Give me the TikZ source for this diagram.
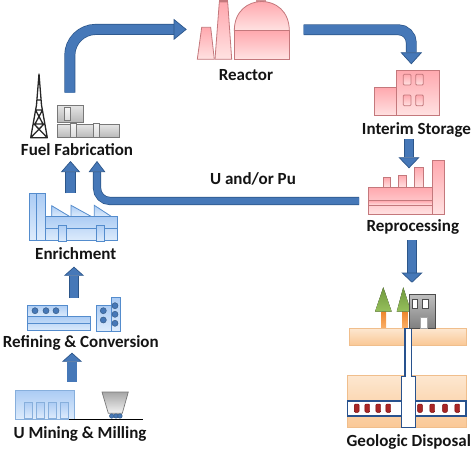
\documentclass[tikz,border=0pt]{standalone}
\usepackage{fontspec}
\setmainfont{Carlito}
\usetikzlibrary{arrows.meta}
\definecolor{flowfill}{RGB}{70,120,184}
\definecolor{flowedge}{RGB}{44,86,138}
\definecolor{pinkedge}{RGB}{196,120,124}
\definecolor{pinktop}{RGB}{255,168,174}
\definecolor{pinkbot}{RGB}{255,226,226}
\definecolor{blueedge}{RGB}{84,140,205}
\definecolor{bluetop}{RGB}{172,204,244}
\definecolor{bluebot}{RGB}{222,236,252}
\definecolor{greyedge}{RGB}{120,120,120}
\definecolor{sandtop}{RGB}{253,231,208}
\definecolor{sandbot}{RGB}{250,200,150}
\definecolor{sandedge}{RGB}{240,190,140}
\definecolor{tunnel}{RGB}{40,82,142}
\definecolor{leaftop}{RGB}{112,152,62}
\definecolor{leafbot}{RGB}{150,192,92}
\definecolor{trunktop}{RGB}{238,132,42}
\definecolor{trunkbot}{RGB}{250,178,108}
\tikzset{
  stagelabel/.style={font=\fontsize{17}{19}\selectfont\bfseries, inner sep=0pt, text=black!92},
  pinkpart/.style={draw=pinkedge, line width=.8pt, top color=pinktop, bottom color=pinkbot},
  bluepart/.style={draw=blueedge, line width=.8pt, top color=bluetop, bottom color=bluebot},
  greypart/.style={draw=greyedge, line width=.7pt, top color=black!10, bottom color=black!28},
  sandpart/.style={draw=sandedge, line width=.6pt, top color=sandtop, bottom color=sandbot},
  tunnelpart/.style={draw=tunnel, line width=1.1pt, fill=white},
  leafpart/.style={top color=leaftop, bottom color=leafbot},
  trunkpart/.style={top color=trunktop, bottom color=trunkbot},
  pellet/.style={draw=blueedge!70!black, line width=.6pt, fill=flowfill},
  flowarrow/.style n args={3}{draw=flowedge, line width=.7pt, double=flowfill, double distance=#1,
    -{Triangle[width=#2, length=#3, fill=flowfill, line width=.7pt]}}
}
\begin{document}
\begin{tikzpicture}[x=1pt,y=-1pt]
\useasboundingbox (0,0) rectangle (474,450);

% reactor: two cooling towers and the containment dome
\fill[pinkedge] (219.3,0) rectangle (227.7,2);
\fill[pinkedge!80] (256,0) rectangle (266,2);
\draw[pinkpart] (197.3,59.3) -- (201.7,27.3) -- (210.7,27.3) -- (214.3,59.3) -- cycle;
\draw[pinkpart] (215,59.3) -- (219.3,2) -- (227.7,2) -- (231.7,59.3) -- cycle;
\draw[pinkpart] (234.3,30.7) .. controls (234.3,11) and (248,1.5) .. (261.8,1.5)
  .. controls (275.6,1.5) and (289.3,11) .. (289.3,30.7) -- cycle;
\draw[pinkpart] (234.3,30.7) rectangle (289.3,59);

% interim storage building
\draw[pinkpart] (374,87.3) rectangle (396.7,115.7);
\draw[pinkpart] (396.7,70) rectangle (439,115.7);
\foreach \wx in {403.3,415.7} \foreach \wy in {74.3,95}
  \draw[pinkpart, rounded corners=1pt] (\wx,\wy) rectangle ++(7.6,10.7);

% reprocessing plant
\draw[pinkpart] (383,177.7) rectangle (390.7,187.3);
\draw[pinkpart] (398.3,175) rectangle (406,187.3);
\draw[pinkpart] (414,167.3) rectangle (423.3,187.3);
\draw[pinkpart] (368.3,187.3) rectangle (432.3,214.3);
\draw[pinkpart] (368.3,200.7) rectangle (432.3,205.3);
\draw[pinkpart] (432.3,160) rectangle (444.3,214.3);

% fuel fabrication: derrick and machining blocks
\draw[black!85, line width=1.3pt, line join=round]
  (39,74) -- (36.5,105) -- (30.7,137.7) -- (47.3,137.7) -- (41.5,105) -- cycle
  (37,100) -- (41,100) (35.5,110) -- (42.5,110)
  (35.5,110) -- (43,124) (42.5,110) -- (35,124) (34,124) -- (44,124)
  (34,124) -- (47.3,137.7) (44,124) -- (30.7,137.7);
\draw[greypart] (57.3,105) rectangle (83.3,122.3);
\draw[greypart, top color=black!3, bottom color=black!15] (64.3,107.3) rectangle (70,120.7);
\draw[greypart] (57.3,124.3) rectangle (119.3,137.7);
\draw[greypart, top color=black!3, bottom color=black!15] (70.3,123.3) rectangle (76.3,137.7);
\draw[greypart, top color=black!3, bottom color=black!15] (93.3,123.3) rectangle (99.3,137.7);

% enrichment plant
\draw[bluepart] (29,193.3) rectangle (36.7,240.7);
\draw[bluepart] (36.7,193.3) rectangle (45,240.7);
\draw[bluepart] (51.7,205.7) -- (51.7,216.7) -- (70,216.7) -- cycle;
\draw[bluepart] (71,205.3) -- (71,216.7) -- (91.7,216.7) -- cycle;
\draw[bluepart] (94.3,205.3) -- (94.3,216.7) -- (111.7,216.7) -- cycle;
\draw[bluepart] (45,216.7) rectangle (117.7,240.7);
\draw[blueedge, line width=.6pt] (45,228.3) -- (117.7,228.3);
\draw[bluepart] (58.3,225) rectangle (66,241.7);
\draw[bluepart] (96.7,225) rectangle (104.3,241.7);

% refining and conversion plant
\draw[bluepart] (27.3,305) rectangle (67.3,316.7);
\draw[bluepart] (27.3,316.7) rectangle (90.7,330.7);
\draw[blueedge, line width=.6pt] (27.3,323.3) -- (90.7,323.3);
\foreach \cx in {35,46,56} \draw[pellet] (\cx,310.7) circle (3);
\draw[bluepart] (96,305) rectangle (111,331);
\draw[bluepart] (111,297.7) rectangle (120,331);
\foreach \cx/\cy in {103.3/310.7,103.3/320,115/305.7,115/314.3,115/323.3}
  \draw[pellet] (\cx,\cy) circle (3);

% mine buildings and ore cart
\draw[bluepart, draw=blueedge!70] (15.7,390.7) rectangle (74.3,419.3);
\foreach \wx in {24,36,48.3,60.3}
  \draw[bluepart, draw=blueedge!70] (\wx,402.3) rectangle ++(8.5,16);
\draw[greypart, top color=black!35, bottom color=black!5] (102,392) -- (128.3,392) -- (122.3,413.3) -- (108.3,413.3) -- cycle;
\foreach \cx in {111.7,116,120} \draw[pellet] (\cx,416) circle (2.2);
\draw[black, line width=1.4pt] (69.3,419.6) -- (142.7,419.6);

% geologic repository: surface layer, tunnels, canisters, trees and hall
\fill[trunkpart] (381.7,311) rectangle (386,329);
\fill[trunkpart] (402.3,311) rectangle (407.3,329);
\fill[leafpart] (383.3,287.3) -- (391.7,311.7) -- (375,311.7) -- cycle;
\fill[leafpart] (403.3,287.3) -- (411,311.7) -- (396.7,311.7) -- cycle;
\draw[sandpart] (349.3,328.3) rectangle (466,345);
\draw[sandpart] (347.3,375.7) rectangle (466,427.3);
\draw[tunnelpart] (405,328.3) rectangle (411.7,376.7);
\draw[tunnelpart] (347.3,401) rectangle (466,416);
\draw[tunnelpart] (401.3,376.7) rectangle (415.7,427.3);
\fill[white] (402,401.6) rectangle (415,415.4);
\fill[white] (406,375) rectangle (410.7,378);
\foreach \cx in {356.7,367.3,378.3,388.3,420,432.3,445,457.3}
  \draw[red!45!black, fill=red!60!black!85!white, line width=.4pt, rounded corners=1pt] (\cx-2.4,404) rectangle (\cx+2.4,412.3);
\draw[black!70, line width=.9pt, top color=black!25, bottom color=black!50] (409.3,294) rectangle (435.3,328.3);
\draw[black!70, line width=.7pt, fill=white] (412.7,299) rectangle (417.7,308.3);
\draw[black!70, line width=.7pt, fill=white] (422.7,299) rectangle (428.3,308.3);
\fill[white, draw=black!35, line width=.5pt] (420,317.7) rectangle (427.7,328);

% stage names
\node[stagelabel] (reactor) at (246,75) {Reactor};
\node[stagelabel] (interim) at (416.5,130) {Interim Storage};
\node[stagelabel] (reproc) at (412.8,226.7) {Reprocessing};
\node[stagelabel] (geologic) at (408.8,441.7) {Geologic Disposal};
\node[stagelabel] (fuel) at (77,150) {Fuel Fabrication};
\node[stagelabel] (enrich) at (75.8,254) {Enrichment};
\node[stagelabel] (refine) at (80.8,342.7) {Refining \& Conversion};
\node[stagelabel] (mine) at (80,434) {U Mining \& Milling};
\node[stagelabel] (recycle) at (253,179) {U and/or Pu};

% connector end points beside each facility
\coordinate (fuelOut) at (69.8,92.7);
\coordinate (reactorIn) at (186.7,29.4);
\coordinate (reactorOut) at (303.7,29.7);
\coordinate (interimIn) at (411.3,64.3);
\coordinate (interimOut) at (409,139.3);
\coordinate (reprocIn) at (409,168.3);
\coordinate (reprocOut) at (412,240);
\coordinate (geologicIn) at (412,282.7);
\coordinate (recycleOut) at (359,201);
\coordinate (recycleIn) at (97,161);
\coordinate (enrichOut) at (70.5,193.3);
\coordinate (fuelIn) at (70.5,161);
\coordinate (refineOut) at (74,298);
\coordinate (enrichIn) at (74,266.7);
\coordinate (mineOut) at (72,381.7);
\coordinate (refineIn) at (72,352.7);

% material flow between the stages
\draw[flowarrow={9.6pt}{21pt}{13pt}, rounded corners=26pt] (fuelOut) -- (fuelOut |- reactorIn) -- (reactorIn);
\draw[flowarrow={9.4pt}{21.6pt}{12pt}, rounded corners=13pt] (reactorOut) -- (interimIn |- reactorOut) -- (interimIn);
\draw[flowarrow={6.8pt}{16.6pt}{11pt}, rounded corners=13pt] (recycleOut) -- (recycleIn |- recycleOut) -- (recycleIn);
\draw[flowarrow={9.2pt}{19pt}{11pt}] (enrichOut) -- (fuelIn);
\draw[flowarrow={8.6pt}{20pt}{9pt}] (refineOut) -- (enrichIn);
\draw[flowarrow={9.2pt}{20pt}{9pt}] (mineOut) -- (refineIn);
\draw[flowarrow={8.4pt}{21pt}{11pt}] (interimOut) -- (reprocIn);
\draw[flowarrow={8.4pt}{21pt}{10pt}] (reprocOut) -- (geologicIn);
\end{tikzpicture}
\end{document}
